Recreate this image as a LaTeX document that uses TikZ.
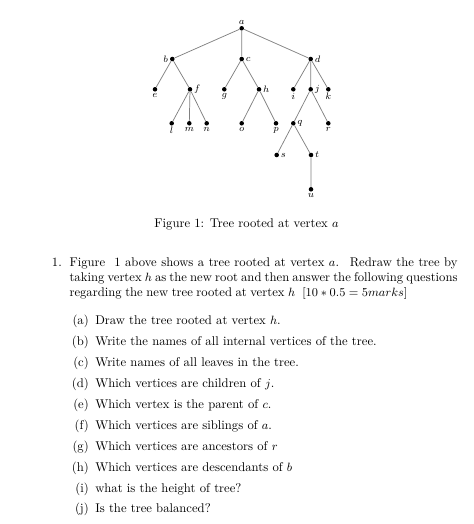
\documentclass[tikz,border=0pt]{standalone}
\usepackage{tikz}
\usetikzlibrary{positioning}
\tikzset{
  vtx/.style={circle,fill=black,inner sep=0pt,minimum size=3.4pt},
  treeedge/.style={draw=black!50,line width=0.55pt},
  lbl/.style={font=\scriptsize,inner sep=1pt},
  txt/.style={font={\fontsize{9.5}{11.25}\selectfont}},
  itemlbl/.style={txt,anchor=base east,inner sep=0pt},
  itemtxt/.style={txt,anchor=base west,inner sep=0pt},
}

\begin{document}
\begin{tikzpicture}[x=0.75pt,y=-0.75pt]
  \useasboundingbox (0,0) rectangle (474,524);

  % tree rooted at a
  \node[vtx,label={[lbl]above:$a$}] (a) at (241.7,28.3) {};
  \node[vtx,label={[lbl]left:$b$}]  (b) at (172.3,59) {};
  \node[vtx,label={[lbl]right:$c$}] (c) at (241.7,59) {};
  \node[vtx,label={[lbl]right:$d$}] (d) at (310.7,59) {};

  \node[vtx,label={[lbl]below:$e$}] (e) at (155,89.3) {};
  \node[vtx,label={[lbl]right:$f$}] (f) at (190,89.3) {};
  \node[vtx,label={[lbl]below:$g$}] (g) at (224.3,89.3) {};
  \node[vtx,label={[lbl]right:$h$}] (h) at (259,89.3) {};
  \node[vtx,label={[lbl]below:$i$}] (i) at (293.3,89.3) {};
  \node[vtx,label={[lbl]right:$j$}] (j) at (310.7,89.3) {};
  \node[vtx,label={[lbl]below:$k$}] (k) at (328.3,89.3) {};

  \node[vtx,label={[lbl]below:$l$}] (l) at (171.7,123.3) {};
  \node[vtx,label={[lbl]below:$m$}] (m) at (189.3,123.3) {};
  \node[vtx,label={[lbl]below:$n$}] (n) at (206.7,123.3) {};
  \node[vtx,label={[lbl]below:$o$}] (o) at (241.7,123.3) {};
  \node[vtx,label={[lbl]below:$p$}] (p) at (276,123.3) {};
  \node[vtx,label={[lbl]right:$q$}] (q) at (293.3,123.3) {};
  \node[vtx,label={[lbl]below:$r$}] (r) at (328.3,123.3) {};

  \node[vtx,label={[lbl]right:$s$}] (s) at (276.7,155) {};
  \node[vtx,label={[lbl]right:$t$}] (t) at (311,155) {};
  \node[vtx,label={[lbl]below:$u$}] (u) at (311,189.3) {};

  \draw[treeedge] (a)--(b) (a)--(c) (a)--(d);
  \draw[treeedge] (b)--(e) (b)--(f) (c)--(g) (c)--(h);
  \draw[treeedge] (d)--(i) (d)--(j) (d)--(k);
  \draw[treeedge] (f)--(l) (f)--(m) (f)--(n) (h)--(o) (h)--(p);
  \draw[treeedge] (j)--(q) (j)--(r) (q)--(s) (q)--(t) (t)--(u);

  % caption and question
  \node[txt,anchor=base,inner sep=0pt] (cap) at (246.5,227) {Figure 1: Tree rooted at vertex $a$};

  \node[itemtxt] (num) at (51.7,266) {1.};
  \node[txt,anchor=north west,inner sep=0pt,text width=291pt,align=left] (quest) at (69.3,257.3)
    {\spaceskip=0.28em plus 0.3em minus 0.08em
     \makebox[291pt][s]{Figure\ \ 1 above shows a tree rooted at vertex $a$. \ Redraw the tree by}\\
     \makebox[291pt][s]{taking vertex $h$ as the new root and then answer the following questions}\\
     regarding the new tree rooted at vertex $h$ \ $[10*0.5=5marks]$};

  \node[itemlbl] (la) at (89,324)   {(a)}; \node[itemtxt] (ta) at (95,324)   {Draw the tree rooted at vertex $h$.};
  \node[itemlbl] (lb) at (89,345)   {(b)}; \node[itemtxt] (tb) at (95,345)   {Write the names of all internal vertices of the tree.};
  \node[itemlbl] (lc) at (89,366)   {(c)}; \node[itemtxt] (tc) at (95,366)   {Write names of all leaves in the tree.};
  \node[itemlbl] (ld) at (89,387)   {(d)}; \node[itemtxt] (td) at (95,387)   {Which vertices are children of $j$.};
  \node[itemlbl] (le) at (89,408)   {(e)}; \node[itemtxt] (te) at (95,408)   {Which vertex is the parent of $c$.};
  \node[itemlbl] (lf) at (89,429)   {(f)}; \node[itemtxt] (tf) at (95,429)   {Which vertices are siblings of $a$.};
  \node[itemlbl] (lg) at (89,450)   {(g)}; \node[itemtxt] (tg) at (95,450)   {Which vertices are ancestors of $r$};
  \node[itemlbl] (lh) at (89,471)   {(h)}; \node[itemtxt] (th) at (95,471)   {Which vertices are descendants of $b$};
  \node[itemlbl] (li) at (89,492)   {(i)}; \node[itemtxt] (ti) at (95,492)   {what is the height of tree?};
  \node[itemlbl] (lj) at (89,512)   {(j)}; \node[itemtxt] (tj) at (95,512)   {Is the tree balanced?};
\end{tikzpicture}
\end{document}
